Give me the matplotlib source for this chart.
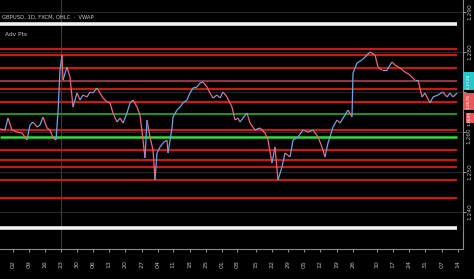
import matplotlib
matplotlib.use("Agg")
import matplotlib.pyplot as plt
import numpy as np
from matplotlib.collections import LineCollection
from matplotlib.patches import Rectangle
from matplotlib.transforms import blended_transform_factory

# ---- data ----
bars = [0, 5, 8, 12, 17, 22, 27, 30, 33, 37, 40, 43, 47, 50, 53, 56, 58, 60, 62, 63,
        67, 70, 73, 77, 80, 83, 87, 90, 93, 97, 100, 103, 107, 110, 113, 117, 120, 123,
        127, 130, 133, 137, 140, 143, 145, 147, 150, 153, 155, 157, 160, 163, 167, 168,
        172, 173, 177, 180, 183, 187, 190, 193, 197, 200, 203, 207, 210, 213, 217, 220,
        223, 227, 232, 235, 238, 240, 247, 250, 255, 260, 265, 268, 272, 275, 278, 282,
        285, 290, 293, 298, 303, 308, 313, 318, 322, 325, 328, 333, 337, 340, 345, 348,
        352, 353, 357, 362, 367, 370, 375, 378, 382, 387, 392, 395, 400, 405, 410, 415,
        418, 422, 425, 430, 433, 438, 443, 447, 450, 453, 457]
closes = [1.26075, 1.2605, 1.2635, 1.2605, 1.2600, 1.25975, 1.2580, 1.26175, 1.2625,
          1.26125, 1.26175, 1.26375, 1.2610, 1.2605, 1.2585, 1.2580, 1.2650, 1.2755,
          1.27925, 1.2730, 1.27625, 1.27375, 1.26625, 1.26975, 1.2680, 1.26925, 1.26875,
          1.2700, 1.26975, 1.2710, 1.26975, 1.2685, 1.2675, 1.26725, 1.26475, 1.2625,
          1.2635, 1.26225, 1.26475, 1.26725, 1.2680, 1.26625, 1.26425, 1.2580, 1.2535,
          1.2630, 1.25875, 1.2555, 1.2480, 1.25475, 1.25625, 1.25725, 1.2580, 1.25475,
          1.2610, 1.26375, 1.2655, 1.26625, 1.26725, 1.2680, 1.26975, 1.2710, 1.27125,
          1.27225, 1.2725, 1.27125, 1.26975, 1.2685, 1.26925, 1.2685, 1.2700, 1.26875,
          1.26625, 1.2630, 1.2635, 1.2625, 1.26475, 1.26225, 1.2605, 1.2610, 1.25975,
          1.2580, 1.25225, 1.25625, 1.2480, 1.25125, 1.25475, 1.25375, 1.2580, 1.25875,
          1.2605, 1.2600, 1.2605, 1.25875, 1.25625, 1.25375, 1.25725, 1.26125, 1.2630,
          1.26225, 1.26425, 1.2655, 1.26375, 1.27475, 1.27725, 1.2780, 1.27925, 1.2800,
          1.27925, 1.27625, 1.2755, 1.2755, 1.2775, 1.27675, 1.2760, 1.2750, 1.27425,
          1.2730, 1.2730, 1.26875, 1.26975, 1.26725, 1.26875, 1.26925, 1.2700, 1.26875,
          1.26975, 1.26875, 1.26975]

level_prices = [1.2870, 1.28075, 1.27925, 1.2760, 1.27275, 1.27075, 1.2675, 1.2645,
                1.2605, 1.25875, 1.2555, 1.2530, 1.25125, 1.2480, 1.2435, 1.2360]
level_kinds = ["white", "red", "red", "red", "dim", "red", "red", "green",
               "red", "lime", "red", "red", "red", "red", "red", "white"]

price_ticks = [1.24, 1.25, 1.26, 1.27, 1.28, 1.29]
price_tick_labels = ["1.240", "1.250", "", "", "1.280", "1.290"]
mid_tick_label = "1.260"

date_ticks = [13, 29, 45, 61, 77, 93, 109, 125, 142, 158, 173, 190, 206, 222, 237,
              256, 272, 288, 304, 320, 337, 353, 377, 393, 409, 425, 442, 458]
date_labels = ["02", "09", "16", "23", "30", "06", "13", "20", "27", "04", "11", "18",
               "25", "01", "08", "15", "22", "29", "05", "12", "19", "26", "10", "17",
               "24", "31", "07", "14"]

badge_low = [1.2705, 1.2655, 1.2623]
badge_high = [1.2750, 1.26975, 1.26475]
badge_labels = ["1.2728", "1.2676", "1.2635"]

title = "GBPUSD, 1D, FXCM, OHLC  ·  VWAP"
subtitle = "Adv Pts"

# ---- style ----
kind_style = {
    "white": dict(color="#f2f2f2", lw=2.6),
    "red": dict(color="#c41a1a", lw=1.6),
    "dim": dict(color="#8a3a48", lw=1.4),
    "green": dict(color="#1f8f1f", lw=1.5),
    "lime": dict(color="#2ee02e", lw=1.8),
}

fig = plt.figure(figsize=(4.74, 2.79), dpi=100, facecolor="#000000")
ax = fig.add_axes([0.0, 1 - 249 / 279, 463 / 474, 249 / 279])
ax.set_facecolor("#000000")

ax.set_xlim(0, 463)
ax.set_ylim(1.293 - 0.00025 * 249, 1.293)

# gridlines at price ticks
for p in price_ticks:
    ax.axhline(p, color="#262626", lw=0.8, zorder=1)
ax.axvline(61, color="#3a3a3a", lw=0.8, zorder=1)

# levels
for p, k in zip(level_prices, level_kinds):
    st = kind_style[k]
    ax.hlines(p, 0, 457, colors=st["color"], lw=st["lw"], zorder=2)

# price line, coloured by direction
x = np.array(bars, dtype=float)
y = np.array(closes)
segs = np.stack([np.column_stack([x[:-1], y[:-1]]), np.column_stack([x[1:], y[1:]])], axis=1)
cols = ["#6aa6e0" if y[i + 1] >= y[i] else "#e46a80" for i in range(len(y) - 1)]
lc = LineCollection(segs, colors=cols, linewidths=0.9, zorder=3)
ax.add_collection(lc)

# axes appearance
for s in ["top", "left"]:
    ax.spines[s].set_visible(False)
ax.spines["bottom"].set_color("#8a8a8a")
ax.spines["right"].set_color("#8a8a8a")
ax.spines["bottom"].set_linewidth(0.8)
ax.spines["right"].set_linewidth(0.8)

ax.yaxis.tick_right()
ax.set_yticks(price_ticks)
ax.set_yticklabels(price_tick_labels, rotation=90, va="center", fontsize=4.2, color="#bbbbbb")
ax.tick_params(axis="y", length=2, color="#8a8a8a", pad=1.5)

ax.set_xticks(date_ticks)
ax.set_xticklabels(date_labels, rotation=90, fontsize=4.5, color="#bbbbbb")
ax.tick_params(axis="x", length=2, color="#8a8a8a", pad=6)

tr = blended_transform_factory(ax.transAxes, ax.transData)
# 1.26 label sits just below the badges
ax.text(1.0 + 3.5 / 463, price_ticks[2] + 0.0012, mid_tick_label, transform=tr, rotation=90,
        ha="left", va="top", fontsize=4.2, color="#bbbbbb", clip_on=False)

# price badges on the right axis
badge_colors = ["#22c8cc", "#e85a5a", "#e85a5a"]
badge_x0 = [1.0, 1.0, 1.0065]
for lo, hi, lab, c, bx in zip(badge_low, badge_high, badge_labels, badge_colors, badge_x0):
    w = (474 / 463) - bx
    ax.add_patch(Rectangle((bx, lo), w, hi - lo, transform=tr, fc=c, ec="none",
                           clip_on=False, zorder=6))
    ax.text(bx + w / 2, (lo + hi) / 2, lab, transform=tr, rotation=90, ha="center",
            va="center", fontsize=3.2, color="#ffffff", clip_on=False, zorder=7)

fig.text(0.004, 1 - 17 / 279, title, fontsize=4.2, color="#c8c8c8", va="center",
         fontstretch="condensed")
fig.text(0.01, 1 - 35 / 279, subtitle, fontsize=4.2, color="#c8c8c8", va="center")

fig.savefig("out.png", dpi=100, facecolor="#000000")
